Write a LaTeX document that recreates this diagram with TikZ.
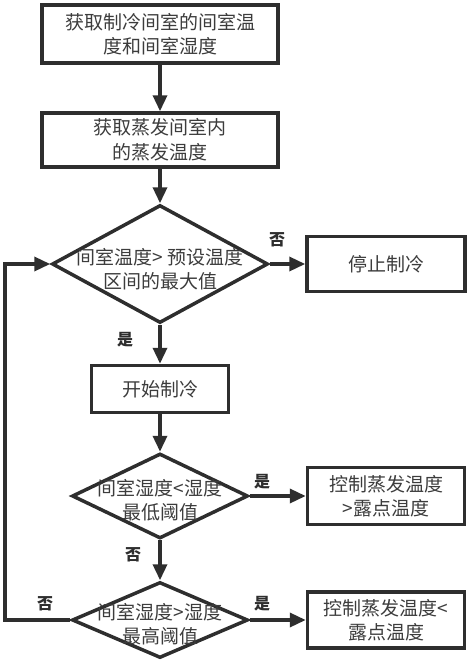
\documentclass[tikz,border=0pt]{standalone}
\usepackage{fontspec}
\setmainfont{Noto Sans CJK SC}
\usepackage{tikz}
\usetikzlibrary{shapes.geometric,arrows.meta}

\definecolor{linegray}{HTML}{2E2E2E}
\definecolor{textgray}{HTML}{3C3C3C}

\begin{document}
\begin{tikzpicture}[x=1pt,y=-1pt,
    every node/.style={text=textgray,font=\fontsize{19}{24.5}\selectfont,align=center},
    stepbox/.style={draw=linegray,line width=3.5pt,inner sep=0pt},
    decision/.style={diamond,draw=linegray,line width=3.5pt,inner sep=0pt},
    flow/.style={draw=linegray,line width=3.5pt,-{Triangle[length=16pt,width=14pt]}},
    answer/.style={font=\fontsize{16}{18}\selectfont\bfseries,text=linegray}]
 \useasboundingbox (0,0) rectangle (474,664);
    % boxes
    \node[stepbox,minimum width=236,minimum height=58] (fetch) at (160,34) {获取制冷间室的间室温\\度和间室湿度};
    \node[stepbox,minimum width=236,minimum height=54] (evap) at (160,140) {获取蒸发间室内\\的蒸发温度};
    \node[stepbox,minimum width=158,minimum height=55] (stop) at (386,264) {停止制冷};
    \node[stepbox,minimum width=137,minimum height=47] (start) at (160,389) {开始制冷};
    \node[stepbox,minimum width=157,minimum height=57] (raise) at (386,496) {控制蒸发温度\\>露点温度};
    \node[stepbox,minimum width=157,minimum height=56] (lower) at (386,620) {控制蒸发温度<\\露点温度};
    % decisions, text set apart so it can run over the border
    \node[decision,minimum width=216,minimum height=118] (temp) at (160,264) {};
    \node[decision,minimum width=176,minimum height=85] (humlow) at (160,496) {};
    \node[decision,minimum width=176,minimum height=76] (humhigh) at (160,620) {};
    \node (temptext) at (160,269) {间室温度> 预设温度\\区间的最大值};
    \node (humlowtext) at (160,500) {间室湿度<湿度\\最低阈值};
    \node (humhightext) at (160,624) {间室湿度>湿度\\最高阈值};
    % connectors
    \draw[flow] (fetch) -- (evap);
    \draw[flow] (evap) -- (temp);
    \draw[flow] (temp.east) -- (stop);
    \draw[flow] (temp.south) -- (start);
    \draw[flow] (start) -- (humlow.north);
    \draw[flow] (humlow.east) -- (raise);
    \draw[flow] (humlow.south) -- (humhigh.north);
    \draw[flow] (humhigh.east) -- (lower);
    \coordinate (loop) at (5,620);
    \draw[flow] (humhigh.west) -- (loop) |- (temp.west);
    % yes / no
    \node[answer] (no1) at (277,240) {否};
    \node[answer] (yes1) at (125,340) {是};
    \node[answer] (yes2) at (262,482) {是};
    \node[answer] (no2) at (133,555) {否};
    \node[answer] (no3) at (45,604) {否};
    \node[answer] (yes3) at (262,604) {是};
  \end{tikzpicture}
\end{document}
